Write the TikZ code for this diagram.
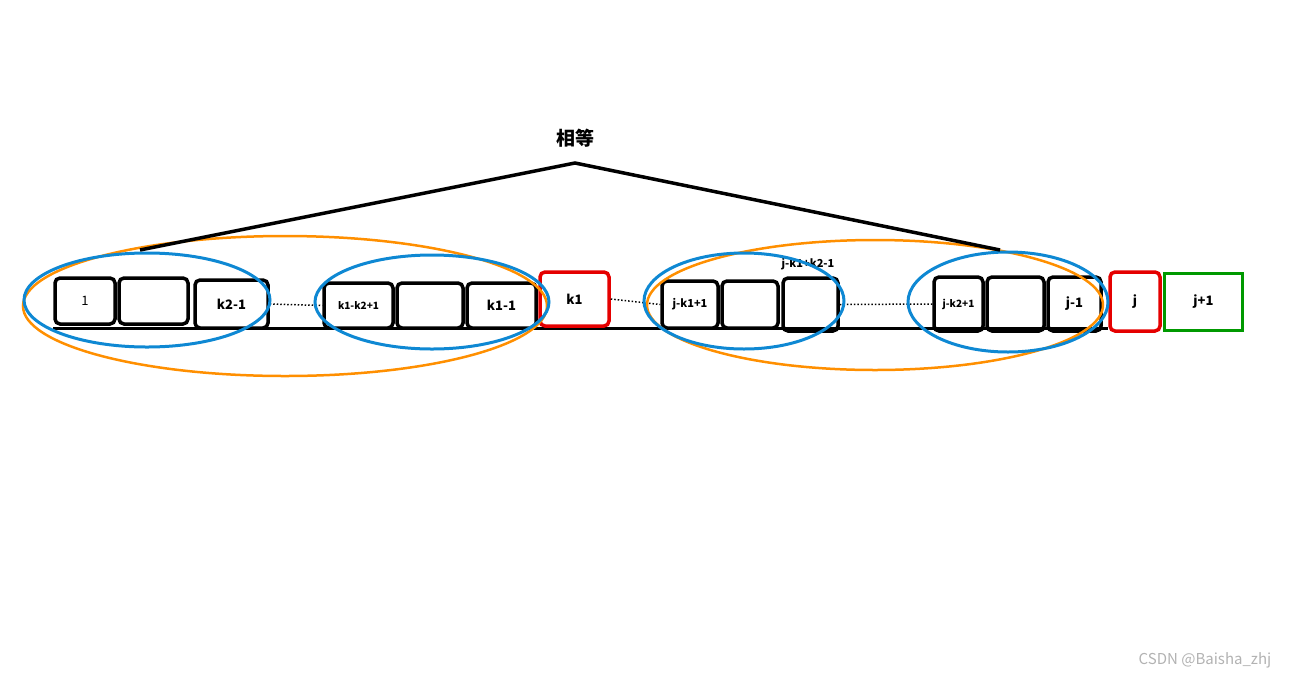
\documentclass[tikz,border=0pt]{standalone}
\usepackage{fontspec}
\setmainfont{Noto Sans CJK SC}
\begin{document}
\begin{tikzpicture}[x=1pt,y=-1pt,
 cell/.style={draw=black,line width=3.5pt,rounded corners=5pt,font=\bfseries\fontsize{13}{13}\selectfont},
 rcell/.style={cell,draw=red!85!black},
 dots/.style={black,line width=1.5pt,dotted},
 oel/.style={draw=orange!90!red!80!yellow,line width=2.5pt},
 bel/.style={draw=cyan!70!blue,line width=3pt}]
\useasboundingbox (0,0) rectangle (1314,681);
\draw[line width=3pt] (53,328) -- (1108,328);
\newcommand\cellat[6]{\node[#1,minimum width=#4-#3-3,minimum height=#6-#5-3] (#2) at ({(#3+#4)/2},{(#5+#6)/2}) {};}
\node[cell,minimum width=60,minimum height=46,font=\fontsize{13}{13}\selectfont] (c1) at (85,301) {1};
\node[cell,minimum width=69,minimum height=46] (c2) at (153.5,301) {};
\node[cell,minimum width=73,minimum height=48] (c3) at (231.5,304) {k2-1};
\node[cell,minimum width=69,minimum height=45,font=\bfseries\fontsize{10}{10}\selectfont] (c4) at (358.5,305.5) {k1-k2+1};
\node[cell,minimum width=66,minimum height=45] (c5) at (430,305.5) {};
\node[cell,minimum width=69,minimum height=45] (c6) at (501.5,305.5) {k1-1};
\node[cell,draw=red!90!black,minimum width=69,minimum height=54] (c7) at (574.5,299) {k1};
\node[cell,minimum width=56,minimum height=47,font=\bfseries\fontsize{11}{11}\selectfont] (c8) at (690,304.5) {j-k1+1};
\node[cell,minimum width=56,minimum height=47] (c9) at (750,304.5) {};
\node[cell,minimum width=55,minimum height=53] (c10) at (810.5,304.5) {};
\node[font=\bfseries\fontsize{11}{11}\selectfont] (lab) at (808,264) {j-k1+k2-1};
\node[cell,minimum width=49,minimum height=54,font=\bfseries\fontsize{10}{10}\selectfont] (c11) at (958.5,304) {j-k2+1};
\node[cell,minimum width=57,minimum height=54] (c12) at (1015.5,304) {};
\node[cell,minimum width=53,minimum height=54] (c13) at (1074.5,304) {j-1};
\node[cell,draw=red!90!black,minimum width=50,minimum height=59] (c14) at (1135,301.5) {j};
\node[cell,draw=green!60!black,rounded corners=0pt,minimum width=78,minimum height=57] (c15) at (1203.5,302) {j+1};
\draw[dots] (c3.east) -- (c4.west);
\draw[dots] (c7.east) -- (c8.west);
\draw[dots] (c10.east) -- (c11.west);
\draw[oel] (285,306) ellipse [x radius=262,y radius=70];
\draw[oel] (875,305) ellipse [x radius=228,y radius=65];
\draw[bel] (147,300) ellipse [x radius=123,y radius=47];
\draw[bel] (432,302) ellipse [x radius=117,y radius=47];
\draw[bel] (744,301) ellipse [x radius=100,y radius=48];
\draw[bel] (1008,302) ellipse [x radius=100,y radius=50];
\coordinate (tl) at (140,250);
\coordinate (tt) at (575,163);
\coordinate (tr) at (1000,250);
\draw[line width=3.5pt] (tl) -- (tt) -- (tr);
\node[font=\bfseries\fontsize{19}{19}\selectfont] (eq) at (575,138) {相等};
\node[text=gray!60,font=\fontsize{15}{15}\selectfont] (wm) at (1205,660) {CSDN @Baisha\_zhj};
\end{tikzpicture}
\end{document}
